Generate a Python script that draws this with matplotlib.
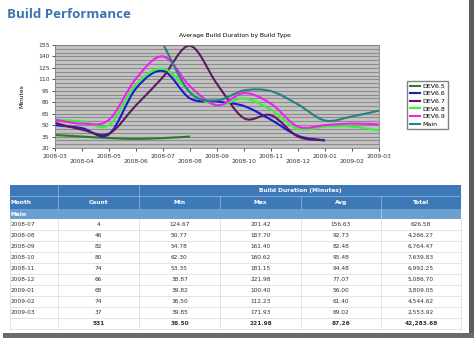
import numpy as np
import matplotlib
matplotlib.use('Agg')
import matplotlib.pyplot as plt
from matplotlib.path import Path
from matplotlib.patches import PathPatch, Rectangle

# chart data (monthly average build minutes per build type)
months = ['2008-03', '2008-04', '2008-05', '2008-06', '2008-07', '2008-08', '2008-09',
          '2008-10', '2008-11', '2008-12', '2009-01', '2009-02', '2009-03']
dev65 = [37, 35, 33, 32, 33, 35]
dev66 = [50, 46, 38, 98, 121, 85, 81, 75, 57, 36, 30]
dev67 = [53, 44, 39, 76, 113, 154, 104, 59, 63, 35, 30]
dev68 = [57, 55, 50, 103, 124, 94, 76, 85, 70, 45, 48, 48, 43]
dev69 = [57, 52, 57, 111, 140, 101, 76, 92, 78, 48, 50, 52, 51]
main_avg = [156.63, 92.73, 82.48, 95.48, 94.48, 77.07, 56.00, 61.40, 69.02]
series_names = ['DEV6.5', 'DEV6.6', 'DEV6.7', 'DEV6.8', 'DEV6.9', 'Main']
series_first = [0, 0, 0, 0, 0, 4]   # index of first month of each series
series_colors = ['#2b7a2b', '#1a1ad0', '#5e1a60', '#3cf03c', '#f020f0', '#2a8080']
y_ticks = [20, 35, 50, 65, 80, 95, 110, 125, 140, 155]

# table data (Main)
tbl_month = months[4:]
tbl_count = [4, 46, 82, 80, 74, 66, 68, 74, 37]
tbl_min = [124.67, 50.77, 54.78, 62.30, 53.35, 38.87, 39.82, 36.50, 39.85]
tbl_max = [201.42, 187.70, 161.40, 160.62, 181.15, 221.98, 100.40, 112.23, 171.93]
tbl_avg = main_avg
tbl_total = [626.58, 4266.27, 6764.47, 7639.83, 6992.25, 5086.70, 3809.05, 4544.62, 2553.92]
tot_count, tot_min, tot_max, tot_avg, tot_total = 531, 36.50, 221.98, 87.26, 42283.68


def smooth_path(x, y):
    # catmull-rom style smoothing drawn as bezier segments
    pts = np.column_stack([x, y]).astype(float)
    n = len(pts)
    verts = [pts[0]]
    codes = [Path.MOVETO]
    for i in range(n - 1):
        p0 = pts[max(i - 1, 0)]
        p1 = pts[i]
        p2 = pts[i + 1]
        p3 = pts[min(i + 2, n - 1)]
        verts += [p1 + (p2 - p0) / 6., p2 - (p3 - p1) / 6., p2]
        codes += [Path.CURVE4] * 3
    return Path(verts, codes)


fig = plt.figure(figsize=(4.74, 3.38), dpi=100)

# background axes in pixel coords for title / table
bg = fig.add_axes((0, 0, 1, 1), zorder=-1)
bg.set_xlim(0, 474)
bg.set_ylim(338, 0)
bg.axis('off')

bg.text(7, 14, 'Build Performance', fontsize=9.5, fontweight='bold', family='Open Sans',
        color='#3b74b0', va='center', ha='left')
bg.text(235, 36, 'Average Build Duration by Build Type', fontsize=4.3, ha='center', va='center')
bg.text(22, 96, 'Minutes', fontsize=4.3, rotation=90, ha='center', va='center')

#######################
# line chart
#######################
ax = fig.add_axes((55 / 474., 1 - 148 / 338., 324 / 474., 103 / 338.))
ax.set_facecolor('#c4c4c4')
series = [dev65, dev66, dev67, dev68, dev69, main_avg]
for name, vals, first, col in zip(series_names, series, series_first, series_colors):
    xs = np.arange(first, first + len(vals))
    ax.add_patch(PathPatch(smooth_path(xs, vals), fill=False, edgecolor=col, lw=1.5))
    ax.plot([], [], color=col, lw=1.5, label=name)

ax.set_xlim(0, len(months) - 1)
ax.set_ylim(20, 155)
ax.set_yticks(y_ticks)
ax.set_yticks(np.arange(20, 156, 5), minor=True)
ax.yaxis.grid(True, which='both', color='#8c8c8c', lw=0.8)
ax.set_axisbelow(True)
ax.tick_params(axis='y', which='minor', length=0)
ax.set_xticks(np.arange(len(months)))
ax.set_xticklabels([m if i % 2 == 0 else '\n' + m for i, m in enumerate(months)])
ax.tick_params(labelsize=4.3, length=2.5, width=0.6, pad=1.5, colors='#333333')
for s in ax.spines.values():
    s.set_color('#808080')
    s.set_linewidth(0.6)

ax.legend(loc='upper left', bbox_to_anchor=(407 / 474., 1 - 81 / 338.),
          bbox_transform=fig.transFigure, borderaxespad=0, fontsize=4.5,
          handlelength=1.6, handletextpad=0.5, labelspacing=0.35, fancybox=False,
          edgecolor='#808080', framealpha=1)

#######################
# table
#######################
col_edges = [10, 58, 139, 220, 301, 381, 461]
hdr_blue = '#3d79b6'
grp_blue = '#6a9fd2'
div_col = '#86b2dc'
fs = 4.2

bg.add_patch(Rectangle((10, 185), 451, 24, color=hdr_blue, lw=0))
bg.plot([10, 461], [196, 196], color=div_col, lw=0.6)
for xe in col_edges[1:3]:
    bg.plot([xe, xe], [185, 209], color=div_col, lw=0.6)
for xe in col_edges[3:6]:
    bg.plot([xe, xe], [196, 209], color=div_col, lw=0.6)
bg.text(300, 190.5, 'Build Duration (Minutes)', fontsize=fs, fontweight='bold', color='w',
        ha='center', va='center')
head = ['Count', 'Min', 'Max', 'Avg', 'Total']
bg.text(11, 202.5, 'Month', fontsize=fs, fontweight='bold', color='w', ha='left', va='center')
for i, h in enumerate(head):
    xc = (col_edges[i + 1] + col_edges[i + 2]) / 2.
    bg.text(xc, 202.5, h, fontsize=fs, fontweight='bold', color='w', ha='center', va='center')

bg.add_patch(Rectangle((10, 209), 451, 10, color=grp_blue, lw=0))
bg.plot([381, 381], [209, 219], color='#a9c8e6', lw=0.6)
bg.text(11, 214, 'Main', fontsize=fs, fontweight='bold', color='w', ha='left', va='center')

row_h = 11
rows = []
for m, c, mn, mx, av, tt in zip(tbl_month, tbl_count, tbl_min, tbl_max, tbl_avg, tbl_total):
    rows.append([m, '%d' % c, '%.2f' % mn, '%.2f' % mx, '%.2f' % av, '{:,.2f}'.format(tt)])
rows.append(['', '%d' % tot_count, '%.2f' % tot_min, '%.2f' % tot_max, '%.2f' % tot_avg,
             '{:,.2f}'.format(tot_total)])

y0 = 219
for r, row in enumerate(rows):
    yc = y0 + row_h * r + row_h / 2.
    bold = 'bold' if r == len(rows) - 1 else 'normal'
    bg.plot([10, 461], [y0 + row_h * (r + 1)] * 2, color='#dedede', lw=0.6)
    for j, val in enumerate(row):
        if j == 0:
            bg.text(11, yc, val, fontsize=fs, color='#333333', ha='left', va='center',
                    fontweight=bold)
        else:
            xc = (col_edges[j] + col_edges[j + 1]) / 2.
            bg.text(xc, yc, val, fontsize=fs, color='#333333', ha='center', va='center',
                    fontweight=bold)
y_end = y0 + row_h * len(rows)
for xe in col_edges:
    bg.plot([xe, xe], [y0, y_end], color='#dedede', lw=0.6)

# page shadow on right and bottom
bg.add_patch(Rectangle((469, 0), 5, 338, color='#5c5c5c', lw=0))
bg.add_patch(Rectangle((3, 333), 471, 5, color='#6a6a6a', lw=0))

plt.savefig('out.png', dpi=100)
